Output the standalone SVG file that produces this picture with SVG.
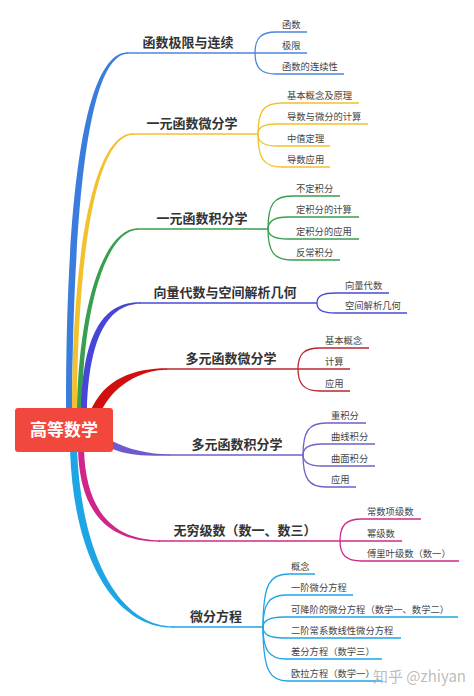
<svg xmlns="http://www.w3.org/2000/svg" width="474" height="696" viewBox="0 0 474 696">
<style>
.bg{fill:#ffffff}
.main{font-family:"Noto Sans CJK SC","Noto Sans CJK JP",sans-serif;font-size:13px;font-weight:bold;fill:#333333;text-anchor:middle}
.sub{font-family:"Noto Sans CJK SC","Noto Sans CJK JP",sans-serif;font-size:9.3px;fill:#444444}
.root{font-family:"Noto Sans CJK SC","Noto Sans CJK JP",sans-serif;font-size:17px;font-weight:bold;fill:#ffffff;text-anchor:middle}
.h{fill:none;stroke-width:1.5}
.c{fill:none;stroke-width:1.3}
.wm{font-family:"Noto Sans CJK SC","Noto Sans CJK JP",sans-serif;font-size:15px;fill:#b0b0b0;fill-opacity:0.85}
</style>
<rect class="bg" x="0" y="0" width="474" height="696"/>
<g id="connectors">
  <!-- trunks -->
  <path fill="#3b7ddd" d="M66,410 C66,150 92,52.3 128,52.3 L128,53.7 C96,54 74,152 72,410 Z"/>
  <path fill="#f2c12e" d="M72,410 C73,220 100,133.3 133,133.3 L133,134.7 C102,135 78,222 77,410 Z"/>
  <path fill="#3a9e4f" d="M77,410 C79,300 105,228.3 138,228.3 L138,229.7 C108,230 83,302 82,410 Z"/>
  <path fill="#4646d8" d="M81,410 C83,330 105,302.3 140,302.3 L140,303.7 C110,304 89,334 87,410 Z"/>
  <path fill="#d01010" d="M90,412 C104,378 135,368.2 167,368.2 L167,369.8 C140,370 112,386 100,414 Z"/>
  <path fill="#6e5bd0" d="M110,440 C130,450 148,454.2 170,454.2 L170,455.8 C148,456 128,456 110,448 Z"/>
  <path fill="#1ea5e6" d="M70,450 C74,565 118,627.7 173,627.7 L173,626.3 C122,626 82,562 77,450 Z"/>
  <path fill="#d0268a" d="M78,450 C80,515 110,541.7 160,541.7 L160,540.3 C114,540 86,512 84,450 Z"/>
  <!-- main horizontals -->
  <path class="h" stroke="#4a86d8" d="M127,53 H255"/>
  <path class="h" stroke="#f2c12e" d="M132,134 H258"/>
  <path class="h" stroke="#3a9e4f" d="M137,229 H268"/>
  <path class="h" stroke="#4a4ad6" d="M139,303 H317"/>
  <path class="h" stroke="#b52a30" d="M166,369 H298"/>
  <path class="h" stroke="#7060c8" d="M169,455 H303"/>
  <path class="h" stroke="#cc2a88" d="M159,541 H340"/>
  <path class="h" stroke="#1ea5e6" d="M172,627 H263"/>
  <!-- branch 1 children -->
  <g stroke="#4a86d8">
    <path class="c" d="M255,53 C255,38 261,32 276,32 H307"/>
    <path class="c" d="M255,53 H307"/>
    <path class="c" d="M255,53 C255,68 261,74 276,74 H344"/>
  </g>
  <g stroke="#f2c12e">
    <path class="c" d="M258,134 C258,110 264,103 282,103 H359"/>
    <path class="c" d="M258,134 C258,127 263,124 278,124 H368"/>
    <path class="c" d="M258,134 C258,142 263,146 278,146 H330"/>
    <path class="c" d="M258,134 C258,159 264,167 282,167 H330"/>
  </g>
  <g stroke="#3a9e4f">
    <path class="c" d="M268,229 C268,204 274,196 292,196 H340"/>
    <path class="c" d="M268,229 C268,222 273,217 288,217 H359"/>
    <path class="c" d="M268,229 C268,235 273,239 288,239 H359"/>
    <path class="c" d="M268,229 C268,252 274,260 292,260 H340"/>
  </g>
  <g stroke="#4a4ad6">
    <path class="c" d="M317,303 C317,296 322,293 336,293 H389"/>
    <path class="c" d="M317,303 C317,310 322,313 336,313 H407"/>
  </g>
  <g stroke="#b52a30">
    <path class="c" d="M298,369 C298,354 304,348 320,348 H369"/>
    <path class="c" d="M298,369 H350"/>
    <path class="c" d="M298,369 C298,384 304,391 320,391 H350"/>
  </g>
  <g stroke="#7060c8">
    <path class="c" d="M303,455 C303,431 309,423 326,423 H366"/>
    <path class="c" d="M303,455 C303,448 308,444 322,444 H375"/>
    <path class="c" d="M303,455 C303,462 308,466 322,466 H375"/>
    <path class="c" d="M303,455 C303,479 309,487 326,487 H356"/>
  </g>
  <g stroke="#cc2a88">
    <path class="c" d="M340,541 C340,525 346,519 362,519 H421"/>
    <path class="c" d="M340,541 H402"/>
    <path class="c" d="M340,541 C340,555 346,561 362,561 H459"/>
  </g>
  <g stroke="#1ea5e6">
    <path class="c" d="M263,627 C263,584 270,574 288,574 H315"/>
    <path class="c" d="M263,627 C263,604 269,595 286,595 H353"/>
    <path class="c" d="M263,627 C263,621 268,617 284,617 H458"/>
    <path class="c" d="M263,627 C263,634 268,638 284,638 H401"/>
    <path class="c" d="M263,627 C263,650 269,659 286,659 H382"/>
    <path class="c" d="M263,627 C263,671 270,681 288,681 H382"/>
  </g>
</g>
<g id="root">
  <rect x="15" y="408" width="98" height="44" rx="3" fill="#f1473d"/>
  <text class="root" x="64" y="436">高等数学</text>
</g>
<g id="n1">
  <text class="main" x="188" y="47">函数极限与连续</text>
  <text class="sub" x="282" y="28">函数</text>
  <text class="sub" x="282" y="49">极限</text>
  <text class="sub" x="282" y="70">函数的连续性</text>
</g>
<g id="n2">
  <text class="main" x="192" y="128">一元函数微分学</text>
  <text class="sub" x="287" y="99">基本概念及原理</text>
  <text class="sub" x="287" y="120">导数与微分的计算</text>
  <text class="sub" x="287" y="142">中值定理</text>
  <text class="sub" x="287" y="163">导数应用</text>
</g>
<g id="n3">
  <text class="main" x="202" y="223">一元函数积分学</text>
  <text class="sub" x="296" y="192">不定积分</text>
  <text class="sub" x="296" y="213">定积分的计算</text>
  <text class="sub" x="296" y="235">定积分的应用</text>
  <text class="sub" x="296" y="256">反常积分</text>
</g>
<g id="n4">
  <text class="main" x="225" y="297">向量代数与空间解析几何</text>
  <text class="sub" x="345" y="289">向量代数</text>
  <text class="sub" x="345" y="309">空间解析几何</text>
</g>
<g id="n5">
  <text class="main" x="231" y="363">多元函数微分学</text>
  <text class="sub" x="325" y="344">基本概念</text>
  <text class="sub" x="325" y="365">计算</text>
  <text class="sub" x="325" y="387">应用</text>
</g>
<g id="n6">
  <text class="main" x="237" y="449">多元函数积分学</text>
  <text class="sub" x="331" y="419">重积分</text>
  <text class="sub" x="331" y="440">曲线积分</text>
  <text class="sub" x="331" y="462">曲面积分</text>
  <text class="sub" x="331" y="483">应用</text>
</g>
<g id="n7">
  <text class="main" x="245" y="535">无穷级数（数一、数三）</text>
  <text class="sub" x="367" y="515">常数项级数</text>
  <text class="sub" x="367" y="537">幂级数</text>
  <text class="sub" x="367" y="557">傅里叶级数（数一）</text>
</g>
<g id="n8">
  <text class="main" x="216" y="621">微分方程</text>
  <text class="sub" x="291" y="570">概念</text>
  <text class="sub" x="291" y="591">一阶微分方程</text>
  <text class="sub" x="291" y="613">可降阶的微分方程（数学一、数学二）</text>
  <text class="sub" x="291" y="634">二阶常系数线性微分方程</text>
  <text class="sub" x="291" y="655">差分方程（数学三）</text>
  <text class="sub" x="291" y="677">欧拉方程（数学一）</text>
</g>
<text class="wm" x="373" y="682">知乎 @zhiyan</text>
</svg>
